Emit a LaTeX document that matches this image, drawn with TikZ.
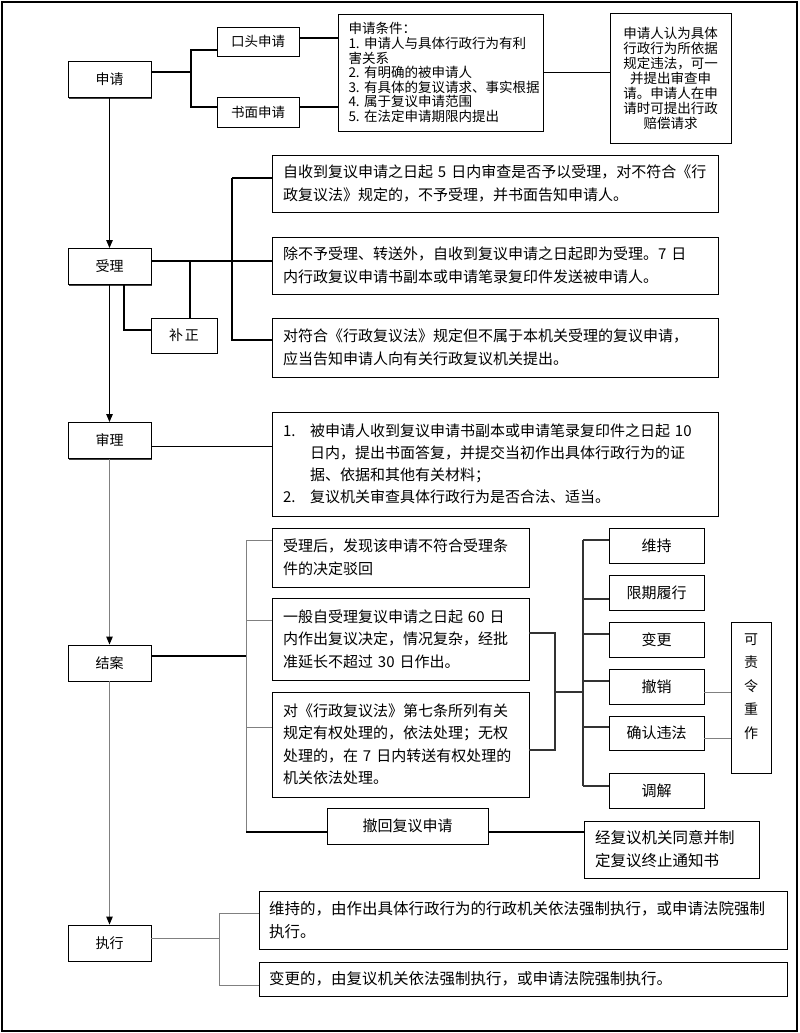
\documentclass[tikz,border=0pt]{standalone}
\usepackage{fontspec}
\setmainfont{Noto Sans CJK SC}
\usetikzlibrary{arrows.meta,shadows}
\begin{document}
\begin{tikzpicture}[x=1pt,y=-1pt,
  box/.style={draw=black, line width=0.9pt, fill=white, inner sep=0pt,
    drop shadow={shadow xshift=1pt, shadow yshift=-1pt, fill=black!75, opacity=1}},
  sz/.style 2 args={minimum width=#1pt, minimum height=#2pt},
  mainbox/.style={box, sz={83}{36}, font=\fontsize{14}{16}\selectfont},
  txt/.style={box, align=left, font=\fontsize{15}{22.5}\selectfont},
  small/.style={box, font=\fontsize{15}{17}\selectfont},
  ln/.style={line width=1.1pt, black},
  dl/.style={line width=1.1pt, black!80},
  gl/.style={line width=1pt, black!50},
  arr/.style={-{Triangle[length=8pt,width=6.5pt,color=black]}},
]
\useasboundingbox (0,0) rectangle (800,1033);
\draw[line width=1.5pt] (2,2) rectangle (797,1031);

% ---------- 申请 ----------
\node[mainbox] (sq) at (109.5,79.5) {申请};
\node[box, sz={82}{29}, font=\fontsize{13.5}{15}\selectfont] (kt) at (258,41.5) {口头申请};
\node[box, sz={82}{30}, font=\fontsize{13.5}{15}\selectfont] (sm) at (258,112) {书面申请};
\node[box, sz={205}{117}, align=left, text width=184pt, font=\fontsize{13.5}{14.6}\selectfont] (tj) at (440.5,72.5)
  {申请条件：\\1.~申请人与具体行政行为有利\\害关系\\2.~有明确的被申请人\\3.~有具体的复议请求、事实根据\\4.~属于复议申请范围\\5.~在法定申请期限内提出};
\node[box, sz={121}{130}, align=center, font=\fontsize{13.5}{15}\selectfont] (qq) at (670.5,78)
  {申请人认为具体\\行政行为所依据\\规定违法，可一\\并提出审查申\\请。申请人在申\\请时可提出行政\\赔偿请求};

% ---------- 受理 ----------
\node[mainbox] (sl) at (109.5,266.5) {受理};
\node[txt, sz={446}{57}, text width=424pt] (s1) at (495,183.5)
  {自收到复议申请之日起~5~日内审查是否予以受理，对不符合《行\\政复议法》规定的，不予受理，并书面告知申请人。};
\node[txt, sz={446}{57}, text width=424pt] (s2) at (495,265.5)
  {除不予受理、转送外，自收到复议申请之日起即为受理。7~日\\内行政复议申请书副本或申请笔录复印件发送被申请人。};
\node[txt, sz={446}{59}, text width=424pt] (s3) at (495,347.5)
  {对符合《行政复议法》规定但不属于本机关受理的复议申请，\\应当告知申请人向有关行政复议机关提出。};
\node[box, sz={66}{35}, font=\fontsize{14}{16}\selectfont] (bz) at (184,335.5) {补\hspace{2pt}正};

% ---------- 审理 ----------
\node[mainbox] (sh) at (109.5,440.5) {审理};
\node[txt, sz={446}{104}, text width=424pt, font=\fontsize{15}{22}\selectfont] (sh1) at (495,464)
  {\makebox[27pt][l]{1.}被申请人收到复议申请书副本或申请笔录复印件之日起~10\\
   \hspace*{27pt}日内，提出书面答复，并提交当初作出具体行政行为的证\\
   \hspace*{27pt}据、依据和其他有关材料；\\
   \makebox[27pt][l]{2.}复议机关审查具体行政行为是否合法、适当。};

% ---------- 结案 ----------
\node[mainbox] (ja) at (109.5,663) {结案};
\node[txt, sz={257}{59}, text width=235pt] (ca) at (400.5,557.5)
  {受理后，发现该申请不符合受理条\\件的决定驳回};
\node[txt, sz={257}{82}, text width=235pt] (cb) at (400.5,639)
  {一般自受理复议申请之日起~60~日\\内作出复议决定，情况复杂，经批\\准延长不超过~30~日作出。};
\node[txt, sz={257}{105}, text width=235pt] (cc) at (400.5,744.5)
  {对《行政复议法》第七条所列有关\\规定有权处理的，依法处理；无权\\处理的，在~7~日内转送有权处理的\\机关依法处理。};
\node[small, sz={95}{35}] (w1) at (656.5,545.5) {维持};
\node[small, sz={95}{35}] (w2) at (656.5,592.5) {限期履行};
\node[small, sz={95}{35}] (w3) at (656.5,639.5) {变更};
\node[small, sz={95}{35}] (w4) at (656.5,686.5) {撤销};
\node[small, sz={95}{34}] (w5) at (656.5,733) {确认违法};
\node[small, sz={95}{35}] (w6) at (656.5,790.5) {调解};
\node[box, sz={40}{151}, align=center, font=\fontsize{14}{23.5}\selectfont] (kz) at (751,697.5)
  {可\\责\\令\\重\\作\\\mbox{}};
\node[small, sz={161}{36}] (ch) at (407.5,826) {撤回复议申请};
\node[txt, sz={175}{57}, text width=153pt, font=\fontsize{15.5}{23}\selectfont] (jz) at (671.5,849.5)
  {经复议机关同意并制\\定复议终止通知书};

% ---------- 执行 ----------
\node[mainbox] (zx) at (109.5,943) {执行};
\node[txt, sz={528}{58}, text width=508pt, font=\fontsize{15.5}{23}\selectfont] (e1) at (523,920)
  {维持的，由作出具体行政行为的行政机关依法强制执行，或申请法院强制\\执行。};
\node[txt, sz={528}{34}, text width=508pt, font=\fontsize{15.5}{23}\selectfont] (e2) at (523,979)
  {变更的，由复议机关依法强制执行，或申请法院强制执行。};

% ---------- connectors: 申请 ----------
\coordinate (b1t) at (191,50);
\coordinate (b1b) at (191,107);
\draw[ln] ([yshift=7.5pt]sq.east) -- ([yshift=7.5pt]sq.east -| b1t);
\draw[ln] ([yshift=-8.5pt]kt.west) -- (b1t) -- (b1b) -- (b1b -| sm.west);
\draw[ln] ([yshift=3.5pt]kt.east) -- ([yshift=3.5pt]kt.east -| tj.west);
\draw[ln] ([yshift=5pt]sm.east) -- ([yshift=5pt]sm.east -| tj.west);
\draw[ln] (tj.east) -- (tj.east -| qq.west);
\draw[ln, arr] (sq.south) -- (sl.north);

% ---------- connectors: 受理 ----------
\coordinate (b2t) at (232,178);
\coordinate (b2b) at (232,340);
\draw[ln] (b2t) -- ([yshift=5.5pt]s1.west);
\draw[ln] (b2t) -- (b2b) -- ([yshift=7.5pt]s3.west);
\draw[ln] ([yshift=5.5pt]sl.east) -- ([yshift=5.5pt]sl.east -| s2.west);
\draw[ln] ([xshift=14.5pt]sl.south) |- ([yshift=5.5pt]bz.west);
\draw[ln] ([xshift=6pt]bz.north) |- ([yshift=5.5pt]sl.east);
\draw[ln, arr] (sl.south) -- (sh.north);

% ---------- connectors: 审理 ----------
\draw[ln] ([yshift=-6pt]sh.east) -- ([yshift=-6pt]sh.east -| sh1.west);
\draw[gl, arr] (sh.south) -- (ja.north);

% ---------- connectors: 结案 ----------
\coordinate (b3t) at (246,540);
\coordinate (b3b) at (246,832);
\draw[ln] ([yshift=7pt]ja.east) -- ([yshift=7pt]ja.east -| b3t);
\draw[gl] (b3t) -- (b3b);
\draw[gl] (b3t) -- ([yshift=17.5pt]ca.west);
\draw[gl] ([yshift=19pt]cb.west) -- ([yshift=19pt]cb.west -| b3t);
\draw[gl] ([yshift=17.5pt]cc.west) -- ([yshift=17.5pt]cc.west -| b3t);
\draw[ln] (b3b) -- ([yshift=-6pt]ch.west);
\draw[ln] ([yshift=-6pt]ch.east) -- ([yshift=-6pt]ch.east -| jz.west);

\coordinate (k2) at (555,750);
\coordinate (k3) at (555,692);
\coordinate (rbt) at (583,540);
\coordinate (rbb) at (583,786);
\draw[dl] ([yshift=6pt]cb.east) -| (k2) -- ([yshift=-5.5pt]cc.east);
\draw[dl] (k3) -- (k3 -| rbt);
\draw[dl] (rbt) -- (rbb);
\draw[dl] (rbt) -- ([yshift=5.5pt]w1.west);
\draw[dl] ([yshift=-6.5pt]w2.west) -- ([yshift=-6.5pt]w2.west -| rbt);
\draw[dl] ([yshift=5.5pt]w3.west) -- ([yshift=5.5pt]w3.west -| rbt);
\draw[dl] ([yshift=5.5pt]w4.west) -- ([yshift=5.5pt]w4.west -| rbt);
\draw[dl] ([yshift=6pt]w5.west) -- ([yshift=6pt]w5.west -| rbt);
\draw[dl] (rbb) -- ([yshift=4.5pt]w6.west);
\draw[gl] ([yshift=-5.5pt]w4.east) -- ([yshift=-5.5pt]w4.east -| kz.west);
\draw[gl] ([yshift=-5pt]w5.east) -- ([yshift=-5pt]w5.east -| kz.west);
\draw[gl, arr] (ja.south) -- (zx.north);

% ---------- connectors: 执行 ----------
\coordinate (b4t) at (219,913);
\coordinate (b4b) at (219,985);
\draw[gl] ([yshift=5pt]zx.east) -- ([yshift=5pt]zx.east -| b4t);
\draw[gl] (b4t) -- (b4b);
\draw[gl] (b4t) -- ([yshift=7pt]e1.west);
\draw[gl] (b4b) -- ([yshift=-6pt]e2.west);
\end{tikzpicture}
\end{document}
